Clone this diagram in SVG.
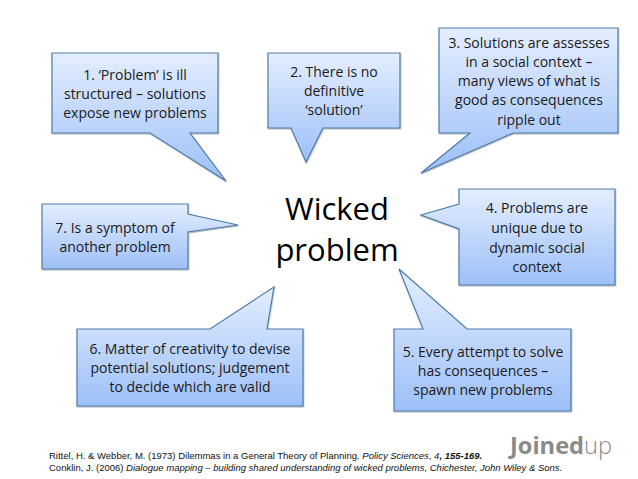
<svg xmlns="http://www.w3.org/2000/svg" width="638" height="479" viewBox="0 0 638 479">
<style>
.b{fill:url(#g);stroke:#4f7da8;stroke-width:1.2;stroke-linejoin:miter;filter:url(#s)}
.t{font-family:"Open Sans","Liberation Sans",sans-serif;font-size:14px;fill:#1a1a1a;text-anchor:middle}
.c{font-family:"Open Sans","Liberation Sans",sans-serif;font-size:31px;fill:#000;text-anchor:middle}
.r{font-family:"Liberation Sans",sans-serif;font-size:9.5px;fill:#111}
</style>
<defs>
<linearGradient id="g" x1="0" y1="0" x2="0" y2="1"><stop offset="0" stop-color="#e4eeff"/><stop offset="1" stop-color="#9dc0f8"/></linearGradient>
<filter id="s" x="-5%" y="-5%" width="110%" height="110%"><feDropShadow dx="0.5" dy="1" stdDeviation="0.7" flood-color="#000" flood-opacity="0.3"/></filter>
</defs>
<rect width="638" height="479" fill="#fff"/>
<g id="center"><text class="c" x="337" y="220">Wicked</text><text class="c" x="337" y="261">problem</text></g>
<g id="n1"><path class="b" d="M52 53H218V133H190L226 181L150 133H52Z"/><text class="t" x="135" y="80">1. ‘Problem’ is ill</text><text class="t" x="135" y="99">structured – solutions</text><text class="t" x="135" y="118">expose new problems</text></g>
<g id="n2"><path class="b" d="M268 53H400V128H323L306 162L291 128H268Z"/><text class="t" x="334" y="77">2. There is no</text><text class="t" x="334" y="96">definitive</text><text class="t" x="334" y="115">‘solution’</text></g>
<g id="n3"><path class="b" d="M439 28H618V133H513L421 173L470 133H439Z"/><text class="t" x="529" y="48">3. Solutions are assesses</text><text class="t" x="529" y="67">in a social context –</text><text class="t" x="529" y="86">many views of what is</text><text class="t" x="529" y="105">good as consequences</text><text class="t" x="529" y="125">ripple out</text></g>
<g id="n4"><path class="b" d="M459 189H615V285H459V229L421 215L459 204Z"/><text class="t" x="537" y="213">4. Problems are</text><text class="t" x="537" y="233">unique due to</text><text class="t" x="537" y="253">dynamic social</text><text class="t" x="537" y="272">context</text></g>
<g id="n5"><path class="b" d="M394 329H423L399 269L467 329H571V411H394Z"/><text class="t" x="483" y="357">5. Every attempt to solve</text><text class="t" x="483" y="376">has consequences –</text><text class="t" x="483" y="395">spawn new problems</text></g>
<g id="n6"><path class="b" d="M77 329H210L274 287L267 329H303V406H77Z"/><text class="t" x="190" y="354">6. Matter of creativity to devise</text><text class="t" x="190" y="373">potential solutions; judgement</text><text class="t" x="190" y="392">to decide which are valid</text></g>
<g id="n7"><path class="b" d="M42 204H188V214L238 225L188 232V269H42Z"/><text class="t" x="115" y="233">7. Is a symptom of</text><text class="t" x="115" y="252">another problem</text></g>
<g id="refs"><text class="r" x="49" y="459">Rittel, H. &amp; Webber, M. (1973) Dilemmas in a General Theory of Planning. <tspan font-style="italic">Policy Sciences</tspan>, <tspan font-style="italic">4</tspan><tspan font-weight="bold" font-style="italic">, 155-169.</tspan></text><text class="r" x="49" y="471">Conklin, J. (2006) <tspan font-style="italic">Dialogue mapping – building shared understanding of wicked problems, Chichester, John Wiley &amp; Sons.</tspan></text></g>
<g id="logo"><text x="510" y="454" font-family="'Open Sans','Liberation Sans',sans-serif" font-size="23" fill="#8a8a8a" textLength="102" lengthAdjust="spacingAndGlyphs"><tspan font-weight="bold">Joined</tspan><tspan font-weight="300">up</tspan></text></g>
</svg>
